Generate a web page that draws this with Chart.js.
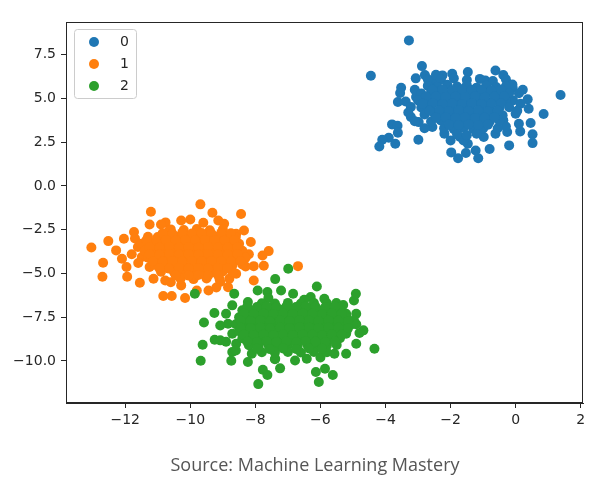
<!DOCTYPE html>
<html>
<head>
<meta charset="utf-8">
<script src="https://cdn.jsdelivr.net/npm/chart.js@4.4.1/dist/chart.umd.min.js"></script>
<style>
  html, body { margin: 0; padding: 0; background: #fff; }
  #wrap { position: relative; width: 609px; height: 483px; }
  #caption { position: absolute; left: 0; width: 630px; top: 452px; text-align: center;
    font-family: "Open Sans", sans-serif; font-size: 18px; color: #555; }
</style>
</head>
<body>
<div id="wrap">
  <canvas id="c" width="609" height="483"></canvas>
  <div id="caption">Source: Machine Learning Mastery</div>
</div>
<script>
const seriesLabels = ["0", "1", "2"];
const seriesColors = ["#1f77b4", "#ff7f0e", "#2ca02c"];
const xTicks = [-12, -10, -8, -6, -4, -2, 0, 2];
const yTicks = [-10, -7.5, -5, -2.5, 0, 2.5, 5, 7.5];

const class0 = [
  [-3.28,8.32],[-4.45,6.30],[1.38,5.20],[0.86,4.11],[-2.88,6.85],[-2.79,6.34],[-3.07,6.15],
  [-3.52,5.61],[-3.55,5.31],[-3.62,4.80],[-3.38,4.83],[-3.22,3.94],[-3.80,3.52],[-3.63,3.44],
  [-3.62,3.04],[-3.90,2.76],[-4.10,2.64],[-4.19,2.26],[-3.70,2.41],[-2.99,2.64],[-1.98,1.92],
  [-1.77,1.58],[-1.53,1.88],[-1.15,1.58],[-0.80,2.11],[-0.20,2.32],[0.52,2.45],[0.52,2.95],
  [0.46,3.60],[0.14,3.12],[0.40,4.41],[0.37,4.95],[0.22,5.50],[-0.09,5.61],[-0.38,6.34],
  [-0.62,6.60],[-1.47,6.51],[-1.95,6.41],[-2.25,6.32],[-2.56,6.03],[-1.23,2.03],[-0.98,2.80],
  [-0.62,2.99],[-0.26,3.08],[0.10,3.56],[-0.38,3.75],[0.00,4.13],[-0.08,4.89],[-0.38,5.27],
  [-0.93,6.03],[-3.06,5.08],[-3.22,4.51],[-2.98,3.65],[-2.56,3.37],[-2.19,2.99],[-1.71,2.80],[-1.47,2.41],
  [-2.7,6.1],[-2.45,6.35],[-0.3,6.1],[-0.1,5.8],[0.1,5.3],[0.15,4.7],[0.05,4.3],[-3.1,5.5],
  [-3.3,4.2],[-3.1,3.7],[-2.8,3.3],[-0.3,3.4],[-0.55,3.3],[-1.6,2.6],[-2.0,2.6],
  [-2.3,6.08],[-1.9,6.15],[-1.5,6.05],[-1.1,6.12],[-0.7,6.0],
  [-2.7,5.72],[-2.4,5.65],[-2.1,5.78],[-1.8,5.68],[-1.5,5.75],[-1.2,5.62],[-0.9,5.74],[-0.6,5.66],[-0.3,5.7],
  [-2.9,5.28],[-2.6,5.35],[-2.3,5.22],[-2.0,5.31],[-1.7,5.27],[-1.4,5.36],[-1.1,5.24],[-0.8,5.33],[-0.5,5.26],[-0.2,5.3],
  [-3.0,4.88],[-2.7,4.95],[-2.4,4.86],[-2.1,4.92],[-1.8,4.85],[-1.5,4.96],[-1.2,4.9],[-0.9,4.84],[-0.6,4.93],[-0.3,4.87],
  [-2.9,4.48],[-2.6,4.55],[-2.3,4.44],[-2.0,4.52],[-1.7,4.46],[-1.4,4.54],[-1.1,4.47],[-0.8,4.53],[-0.5,4.45],[-0.2,4.5],
  [-2.8,4.08],[-2.5,4.14],[-2.2,4.05],[-1.9,4.12],[-1.6,4.06],[-1.3,4.13],[-1.0,4.07],[-0.7,4.11],[-0.4,4.04],
  [-2.6,3.68],[-2.3,3.74],[-2.0,3.66],[-1.7,3.72],[-1.4,3.65],[-1.1,3.71],[-0.8,3.67],[-0.5,3.73],
  [-2.2,3.3],[-1.9,3.25],[-1.6,3.32],[-1.3,3.26],[-1.0,3.29],
  [-1.8,2.95],[-1.5,2.9],[-1.2,2.98],
  [-2.55,5.5],[-2.25,5.52],[-1.95,5.47],[-1.65,5.53],[-1.35,5.49],[-1.05,5.51],[-0.75,5.46],[-0.45,5.5],
  [-2.75,5.1],[-2.45,5.12],[-2.15,5.08],[-1.85,5.11],[-1.55,5.09],[-1.25,5.12],[-0.95,5.07],[-0.65,5.1],[-0.35,5.11],
  [-2.85,4.7],[-2.55,4.72],[-2.25,4.68],[-1.95,4.71],[-1.65,4.69],[-1.35,4.72],[-1.05,4.68],[-0.75,4.7],[-0.45,4.71],
  [-2.65,4.3],[-2.35,4.31],[-2.05,4.28],[-1.75,4.32],[-1.45,4.29],[-1.15,4.31],[-0.85,4.28],[-0.55,4.3],
  [-2.45,3.9],[-2.15,3.92],[-1.85,3.88],[-1.55,3.91],[-1.25,3.89],[-0.95,3.9],[-0.65,3.92],
  [-2.05,3.5],[-1.75,3.48],[-1.45,3.52],[-1.15,3.49],[-0.85,3.5]
];

const class1 = [
  [-13.04,-3.51],[-12.52,-3.15],[-12.68,-4.39],[-12.70,-5.19],[-11.94,-5.19],[-11.55,-5.53],
  [-11.21,-1.47],[-11.73,-2.63],[-12.04,-3.01],[-12.28,-3.68],[-12.10,-4.16],[-11.96,-4.63],
  [-11.25,-2.20],[-10.76,-2.08],[-10.83,-6.29],[-10.57,-6.29],[-10.16,-6.40],[-9.69,-1.05],
  [-9.32,-1.53],[-10.00,-1.91],[-8.44,-1.60],[-8.35,-2.54],[-8.14,-3.20],[-7.59,-3.72],
  [-7.78,-3.97],[-7.74,-4.56],[-8.05,-4.58],[-8.05,-5.40],[-6.69,-4.58],[-8.47,-4.25],
  [-8.59,-5.01],[-8.84,-5.78],[-9.08,-5.49],[-9.44,-5.97],[-9.80,-5.97],[-10.28,-5.68],
  [-10.77,-5.40],[-11.13,-5.30],[-9.14,-1.97],[-8.96,-2.16],[-8.59,-2.73],[-8.59,-3.68],
  [-11.61,-3.49],[-11.49,-4.06],[-11.25,-4.63],[-10.28,-1.97],[-10.65,-2.54],
  [-11.7,-3.0],[-11.8,-3.9],[-11.6,-4.4],[-8.2,-3.9],[-8.3,-4.6],[-10.9,-2.2],[-9.6,-2.1],
  [-8.8,-5.3],[-10.6,-5.5],[-9.2,-5.8],
  [-10.6,-2.48],[-10.2,-2.52],[-9.8,-2.46],[-9.4,-2.53],[-9.0,-2.49],
  [-11.3,-2.9],[-11.0,-2.92],[-10.7,-2.88],[-10.4,-2.91],[-10.1,-2.89],[-9.8,-2.93],[-9.5,-2.88],[-9.2,-2.91],[-8.9,-2.9],[-8.6,-2.92],
  [-11.5,-3.3],[-11.2,-3.32],[-10.9,-3.28],[-10.6,-3.31],[-10.3,-3.29],[-10.0,-3.32],[-9.7,-3.28],[-9.4,-3.3],[-9.1,-3.31],[-8.8,-3.29],[-8.5,-3.3],
  [-11.4,-3.7],[-11.1,-3.72],[-10.8,-3.68],[-10.5,-3.71],[-10.2,-3.69],[-9.9,-3.72],[-9.6,-3.68],[-9.3,-3.7],[-9.0,-3.71],[-8.7,-3.69],[-8.4,-3.7],
  [-11.3,-4.1],[-11.0,-4.12],[-10.7,-4.08],[-10.4,-4.11],[-10.1,-4.09],[-9.8,-4.12],[-9.5,-4.08],[-9.2,-4.1],[-8.9,-4.11],[-8.6,-4.09],[-8.3,-4.1],
  [-11.1,-4.5],[-10.8,-4.52],[-10.5,-4.48],[-10.2,-4.51],[-9.9,-4.49],[-9.6,-4.52],[-9.3,-4.48],[-9.0,-4.5],[-8.7,-4.51],[-8.4,-4.49],
  [-10.9,-4.9],[-10.5,-4.92],[-10.2,-4.88],[-9.9,-4.91],[-9.6,-4.89],[-9.3,-4.92],[-9.0,-4.88],[-8.7,-4.9],
  [-10.3,-5.3],[-9.9,-5.32],[-9.5,-5.28],[-9.1,-5.31],
  [-10.85,-2.7],[-10.55,-2.72],[-10.25,-2.68],[-9.95,-2.71],[-9.65,-2.69],[-9.35,-2.72],[-9.05,-2.68],[-8.75,-2.7],
  [-11.35,-3.1],[-11.05,-3.12],[-10.75,-3.08],[-10.45,-3.11],[-10.15,-3.09],[-9.85,-3.12],[-9.55,-3.08],[-9.25,-3.1],[-8.95,-3.11],[-8.65,-3.09],
  [-11.25,-3.5],[-10.95,-3.52],[-10.65,-3.48],[-10.35,-3.51],[-10.05,-3.49],[-9.75,-3.52],[-9.45,-3.48],[-9.15,-3.5],[-8.85,-3.51],[-8.55,-3.49],
  [-11.25,-3.9],[-10.95,-3.92],[-10.65,-3.88],[-10.35,-3.91],[-10.05,-3.89],[-9.75,-3.92],[-9.45,-3.88],[-9.15,-3.9],[-8.85,-3.91],[-8.55,-3.89],
  [-11.15,-4.3],[-10.85,-4.32],[-10.55,-4.28],[-10.25,-4.31],[-9.95,-4.29],[-9.65,-4.32],[-9.35,-4.28],[-9.05,-4.3],[-8.75,-4.31],[-8.45,-4.29],
  [-10.95,-4.7],[-10.65,-4.72],[-10.35,-4.68],[-10.05,-4.71],[-9.75,-4.69],[-9.45,-4.72],[-9.15,-4.68],[-8.85,-4.7],
  [-10.45,-5.1],[-10.05,-5.12],[-9.75,-5.08],[-9.45,-5.11],[-9.15,-5.09]
];

const class2 = [
  [-6.99,-4.73],[-9.86,-6.16],[-6.11,-5.74],[-7.39,-5.32],[-9.26,-7.26],[-9.58,-7.80],
  [-9.62,-9.07],[-9.68,-9.99],[-9.25,-8.79],[-9.08,-8.82],[-8.71,-9.49],[-8.74,-9.99],
  [-8.23,-10.06],[-7.77,-10.50],[-7.63,-10.80],[-7.91,-11.32],[-7.24,-10.42],[-6.78,-9.97],
  [-6.42,-9.87],[-6.14,-10.63],[-5.86,-10.44],[-6.05,-11.20],[-5.62,-10.80],[-5.21,-9.59],
  [-4.90,-9.01],[-4.34,-9.30],[-4.68,-8.25],[-4.90,-7.30],[-5.21,-7.30],[-4.97,-6.54],
  [-4.91,-6.16],[-5.51,-6.69],[-5.88,-6.44],[-6.30,-6.35],[-6.84,-6.16],[-7.21,-5.97],
  [-7.63,-6.06],[-7.93,-5.97],[-8.23,-6.63],[-8.65,-6.16],[-8.71,-6.82],[-8.84,-7.87],
  [-9.08,-7.97],[-8.71,-8.44],[-8.59,-9.01],[-8.11,-9.59],[-7.39,-9.87],[-5.57,-9.59],
  [-5.21,-8.44],[-4.97,-7.68],
  [-8.9,-7.3],[-8.9,-8.9],[-8.6,-9.4],[-4.8,-8.4],[-4.9,-7.9],[-5.3,-6.8],[-7.6,-6.4],
  [-6.5,-6.5],[-7.4,-9.9],[-6.0,-9.8],
  [-7.8,-6.7],[-7.4,-6.72],[-7.0,-6.68],[-6.6,-6.71],[-6.2,-6.69],[-5.8,-6.7],
  [-8.4,-7.1],[-8.1,-7.12],[-7.8,-7.08],[-7.5,-7.11],[-7.2,-7.09],[-6.9,-7.12],[-6.6,-7.08],[-6.3,-7.1],[-6.0,-7.11],[-5.7,-7.09],[-5.4,-7.1],
  [-8.5,-7.5],[-8.2,-7.52],[-7.9,-7.48],[-7.6,-7.51],[-7.3,-7.49],[-7.0,-7.52],[-6.7,-7.48],[-6.4,-7.5],[-6.1,-7.51],[-5.8,-7.49],[-5.5,-7.5],[-5.2,-7.52],
  [-8.6,-7.9],[-8.3,-7.92],[-8.0,-7.88],[-7.7,-7.91],[-7.4,-7.89],[-7.1,-7.92],[-6.8,-7.88],[-6.5,-7.9],[-6.2,-7.91],[-5.9,-7.89],[-5.6,-7.9],[-5.3,-7.92],[-5.0,-7.88],
  [-8.5,-8.3],[-8.2,-8.32],[-7.9,-8.28],[-7.6,-8.31],[-7.3,-8.29],[-7.0,-8.32],[-6.7,-8.28],[-6.4,-8.3],[-6.1,-8.31],[-5.8,-8.29],[-5.5,-8.3],[-5.2,-8.32],
  [-8.4,-8.7],[-8.1,-8.72],[-7.8,-8.68],[-7.5,-8.71],[-7.2,-8.69],[-6.9,-8.72],[-6.6,-8.68],[-6.3,-8.7],[-6.0,-8.71],[-5.7,-8.69],[-5.4,-8.7],
  [-8.2,-9.1],[-7.9,-9.12],[-7.6,-9.08],[-7.3,-9.11],[-7.0,-9.09],[-6.7,-9.12],[-6.4,-9.08],[-6.1,-9.1],[-5.8,-9.11],[-5.5,-9.09],
  [-7.8,-9.5],[-7.4,-9.52],[-7.0,-9.48],[-6.6,-9.51],[-6.2,-9.49],[-5.8,-9.5],
  [-8.25,-6.9],[-7.95,-6.92],[-7.65,-6.88],[-7.35,-6.91],[-7.05,-6.89],[-6.75,-6.92],[-6.45,-6.88],[-6.15,-6.9],[-5.85,-6.91],[-5.55,-6.89],
  [-8.35,-7.3],[-8.05,-7.32],[-7.75,-7.28],[-7.45,-7.31],[-7.15,-7.29],[-6.85,-7.32],[-6.55,-7.28],[-6.25,-7.3],[-5.95,-7.31],[-5.65,-7.29],[-5.35,-7.3],
  [-8.45,-7.7],[-8.15,-7.72],[-7.85,-7.68],[-7.55,-7.71],[-7.25,-7.69],[-6.95,-7.72],[-6.65,-7.68],[-6.35,-7.7],[-6.05,-7.71],[-5.75,-7.69],[-5.45,-7.7],[-5.15,-7.72],
  [-8.45,-8.1],[-8.15,-8.12],[-7.85,-8.08],[-7.55,-8.11],[-7.25,-8.09],[-6.95,-8.12],[-6.65,-8.08],[-6.35,-8.1],[-6.05,-8.11],[-5.75,-8.09],[-5.45,-8.1],[-5.15,-8.12],
  [-8.35,-8.5],[-8.05,-8.52],[-7.75,-8.48],[-7.45,-8.51],[-7.15,-8.49],[-6.85,-8.52],[-6.55,-8.48],[-6.25,-8.5],[-5.95,-8.51],[-5.65,-8.49],[-5.35,-8.5],
  [-8.25,-8.9],[-7.95,-8.92],[-7.65,-8.88],[-7.35,-8.91],[-7.05,-8.89],[-6.75,-8.92],[-6.45,-8.88],[-6.15,-8.9],[-5.85,-8.91],[-5.55,-8.89],
  [-7.95,-9.3],[-7.55,-9.32],[-7.15,-9.28],[-6.75,-9.31],[-6.35,-9.29],[-5.95,-9.3]
];

const seriesPoints = [class0, class1, class2];

const TICK_COLOR = "#262626";
const fmt = (v, dec) => (dec ? v.toFixed(1) : String(v)).replace("-", "\u2212");

const boxPlugin = {
  id: "boxPlugin",
  afterDraw(chart) {
    const { ctx, chartArea: a } = chart;
    ctx.save();
    ctx.strokeStyle = TICK_COLOR;
    ctx.lineWidth = 1;
    ctx.strokeRect(Math.round(a.left) + 0.5, Math.round(a.top) + 0.5,
      Math.round(a.right - a.left) - 1, Math.round(a.bottom - a.top) - 1);
    // legend
    const lx = a.left + 8, ly = a.top + 7, lw = 62, lh = 69;
    ctx.fillStyle = "rgba(255,255,255,0.85)";
    ctx.strokeStyle = "#cccccc";
    ctx.beginPath();
    ctx.roundRect(lx + 0.5, ly + 0.5, lw, lh, 3);
    ctx.fill();
    ctx.stroke();
    ctx.font = "14px 'DejaVu Sans'";
    ctx.textBaseline = "middle";
    seriesLabels.forEach((lab, i) => {
      const cy = ly + 13 + i * 22;
      ctx.fillStyle = seriesColors[i];
      ctx.beginPath();
      ctx.arc(lx + 20, cy, 5, 0, Math.PI * 2);
      ctx.fill();
      ctx.fillStyle = TICK_COLOR;
      ctx.fillText(lab, lx + 46, cy);
    });
    ctx.restore();
  }
};

new Chart(document.getElementById("c"), {
  type: "scatter",
  data: {
    datasets: seriesPoints.map((pts, i) => ({
      label: seriesLabels[i],
      data: pts.map(p => ({ x: p[0], y: p[1] })),
      backgroundColor: seriesColors[i],
      borderWidth: 0,
      pointRadius: 5,
      pointHoverRadius: 5,
      order: 2 - i
    }))
  },
  options: {
    responsive: false,
    animation: false,
    layout: { padding: { left: 0, top: 22, right: 26, bottom: 0 } },
    plugins: { legend: { display: false }, tooltip: { enabled: false } },
    scales: {
      x: {
        type: "linear",
        min: -13.82, max: 2.07,
        afterBuildTicks: s => { s.ticks = xTicks.map(v => ({ value: v })); },
        afterFit: s => { s.height = 80; },
        grid: { display: true, drawOnChartArea: false, drawTicks: true, tickLength: 5, color: TICK_COLOR },
        border: { display: true, color: TICK_COLOR },
        ticks: { color: TICK_COLOR, padding: 4, font: { family: "DejaVu Sans", size: 14 },
          maxRotation: 0, callback: v => fmt(v, false) }
      },
      y: {
        type: "linear",
        min: -12.4, max: 9.37,
        afterBuildTicks: s => { s.ticks = yTicks.map(v => ({ value: v })); },
        afterFit: s => { s.width = 66; },
        grid: { display: true, drawOnChartArea: false, drawTicks: true, tickLength: 5, color: TICK_COLOR },
        border: { display: true, color: TICK_COLOR },
        ticks: { color: TICK_COLOR, padding: 5, font: { family: "DejaVu Sans", size: 14 },
          callback: v => fmt(v, true) }
      }
    }
  },
  plugins: [boxPlugin]
});
</script>
</body>
</html>
